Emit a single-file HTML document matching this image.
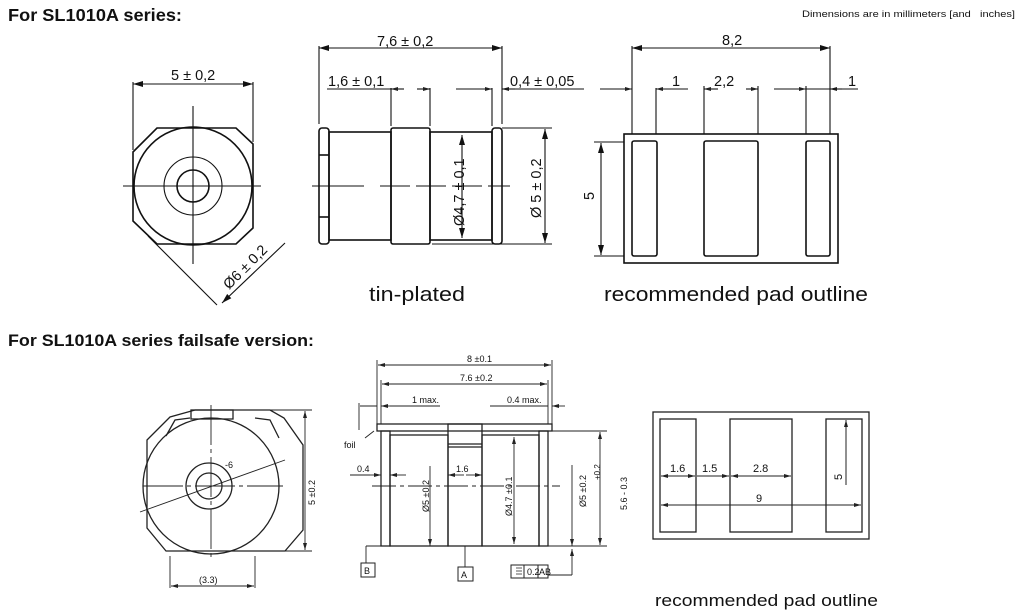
<!DOCTYPE html>
<html><head><meta charset="utf-8"><style>
html,body{margin:0;padding:0;background:#fff;width:1028px;height:615px;overflow:hidden}
svg{display:block}
text{font-family:"Liberation Sans",sans-serif;fill:#111}
</style></head><body>
<svg width="1028" height="615" viewBox="0 0 1028 615" xmlns="http://www.w3.org/2000/svg">
<defs>
<marker id="a" viewBox="0 0 10 6" refX="10" refY="3" markerWidth="10" markerHeight="6" orient="auto-start-reverse" markerUnits="userSpaceOnUse"><path d="M0,0 L10,3 L0,6z" fill="#111"/></marker>
<marker id="s" viewBox="0 0 7 4" refX="7" refY="2" markerWidth="7" markerHeight="4" orient="auto-start-reverse" markerUnits="userSpaceOnUse"><path d="M0,0 L7,2 L0,4z" fill="#222"/></marker>
</defs>
<text x="8" y="21" font-size="17.5" font-weight="bold" textLength="174" lengthAdjust="spacingAndGlyphs">For SL1010A series:</text>
<text x="802" y="17" font-size="9.5" textLength="213" lengthAdjust="spacingAndGlyphs">Dimensions are in millimeters [and&#160;&#160;&#160;inches]</text>
<text x="8" y="346" font-size="16.5" font-weight="bold" textLength="306" lengthAdjust="spacingAndGlyphs">For SL1010A series failsafe version:</text>

<g fill="none" stroke="#111" stroke-width="1.6">
<path d="M133,152 L157,128 L236,128 L253,144 L253,228 L236,244 L157,244 L133,221 Z"/>
<circle cx="193" cy="186" r="59"/>
<circle cx="193" cy="186" r="29" stroke-width="1.1"/>
<circle cx="193" cy="186" r="16"/>
<g stroke-width="1.1"><line x1="123" y1="186" x2="261" y2="186"/><line x1="193" y1="106" x2="193" y2="264"/>
<line x1="133" y1="82" x2="133" y2="150"/><line x1="253" y1="82" x2="253" y2="142"/>
<line x1="133" y1="84" x2="253" y2="84" marker-start="url(#a)" marker-end="url(#a)"/>
<line x1="148" y1="236" x2="217" y2="305"/>
<line x1="285" y1="243" x2="222" y2="303" marker-end="url(#a)"/></g>

<rect x="319" y="128" width="10" height="116" rx="3"/>
<rect x="492" y="128" width="10" height="116" rx="3"/>
<rect x="329" y="132" width="62" height="108"/>
<rect x="391" y="128" width="39" height="116" rx="2"/>
<rect x="430" y="132" width="62" height="108"/>
<line x1="319" y1="155" x2="329" y2="155"/><line x1="319" y1="217" x2="329" y2="217"/>
<g stroke-width="1.1">
<line x1="312" y1="186" x2="364" y2="186"/><line x1="380" y1="186" x2="510" y2="186" stroke-dasharray="30,6"/>
<line x1="319" y1="46" x2="319" y2="124"/><line x1="502" y1="46" x2="502" y2="124"/>
<line x1="319" y1="48" x2="502" y2="48" marker-start="url(#a)" marker-end="url(#a)"/>
<line x1="391" y1="88" x2="391" y2="126"/><line x1="430" y1="88" x2="430" y2="126"/>
<line x1="327" y1="89" x2="391" y2="89"/>
<line x1="404" y1="89" x2="391" y2="89" marker-end="url(#s)"/><line x1="417" y1="89" x2="430" y2="89" marker-end="url(#s)"/>
<line x1="492" y1="88" x2="492" y2="126"/>
<line x1="456" y1="89" x2="492" y2="89" marker-end="url(#s)"/><line x1="515" y1="89" x2="502" y2="89" marker-end="url(#s)"/>
<line x1="502" y1="89" x2="584" y2="89"/>
<line x1="462" y1="135" x2="462" y2="238" marker-start="url(#a)" marker-end="url(#a)"/>
<line x1="502" y1="128" x2="552" y2="128"/><line x1="432" y1="244" x2="552" y2="244"/>
<line x1="545" y1="129" x2="545" y2="243" marker-start="url(#a)" marker-end="url(#a)"/>
</g>

<rect x="624" y="134" width="214" height="129"/>
<rect x="632" y="141" width="25" height="115" rx="2"/>
<rect x="704" y="141" width="54" height="115" rx="2"/>
<rect x="806" y="141" width="24" height="115" rx="2"/>
<g stroke-width="1.1">
<line x1="632" y1="46" x2="632" y2="134"/><line x1="830" y1="46" x2="830" y2="134"/>
<line x1="632" y1="48" x2="830" y2="48" marker-start="url(#a)" marker-end="url(#a)"/>
<line x1="656" y1="88" x2="656" y2="134"/><line x1="704" y1="86" x2="704" y2="134"/><line x1="758" y1="86" x2="758" y2="134"/><line x1="806" y1="86" x2="806" y2="134"/>
<line x1="600" y1="89" x2="632" y2="89" marker-end="url(#s)"/><line x1="688" y1="89" x2="656" y2="89" marker-end="url(#s)"/>
<line x1="718" y1="89" x2="704" y2="89" marker-end="url(#s)"/><line x1="746" y1="89" x2="758" y2="89" marker-end="url(#s)"/>
<line x1="774" y1="89" x2="806" y2="89" marker-end="url(#s)"/><line x1="842" y1="89" x2="830" y2="89" marker-end="url(#s)"/>
<line x1="806" y1="89" x2="858" y2="89"/>
<line x1="594" y1="142" x2="624" y2="142"/><line x1="594" y1="256" x2="624" y2="256"/>
<line x1="601" y1="143" x2="601" y2="255" marker-start="url(#a)" marker-end="url(#a)"/>
</g>
</g>

<g font-size="14.5">
<text x="171" y="80">5 ± 0,2</text>
<text x="377" y="46">7,6 ± 0,2</text>
<text x="328" y="86">1,6 ± 0,1</text>
<text x="510" y="86">0,4 ± 0,05</text>
<text x="722" y="45">8,2</text>
<text x="672" y="86">1</text>
<text x="714" y="86">2,2</text>
<text x="848" y="86">1</text>
<text transform="translate(464,226) rotate(-90)">Ø4,7 ± 0,1</text>
<text transform="translate(541,218) rotate(-90)">Ø 5 ± 0,2</text>
<text transform="translate(594,200) rotate(-90)">5</text>
<text transform="translate(229,290) rotate(-45)">Ø6 ± 0,2</text>
</g>
<text x="369" y="301" font-size="20" textLength="96" lengthAdjust="spacingAndGlyphs">tin-plated</text>
<text x="604" y="301" font-size="20" textLength="264" lengthAdjust="spacingAndGlyphs">recommended pad outline</text>

<g fill="none" stroke="#222" stroke-width="1.3">
<path d="M147,440 L170,417 L195,410 L270,410 L284,418 L303,445 L303,530 L285,551 L166,551 L147,528 Z"/>
<circle cx="211" cy="486" r="68"/>
<circle cx="209" cy="486" r="23"/>
<circle cx="209" cy="486" r="13"/>
<rect x="191" y="410" width="42" height="9"/>
<path d="M166,436 L175,420 L190,418 M255,418 L270,420 L279,438"/>
<g stroke-width="0.9">
<line x1="143" y1="486" x2="283" y2="486" stroke-dasharray="40,4,4,4"/>
<line x1="211" y1="405" x2="211" y2="560" stroke-dasharray="40,4,4,4"/>
<line x1="140" y1="512" x2="285" y2="460"/>
<line x1="270" y1="410" x2="312" y2="410"/><line x1="270" y1="551" x2="312" y2="551"/>
<line x1="305" y1="411" x2="305" y2="550" marker-start="url(#s)" marker-end="url(#s)"/>
<line x1="170" y1="556" x2="170" y2="588"/><line x1="255" y1="556" x2="255" y2="588"/>
<line x1="171" y1="586" x2="254" y2="586" marker-start="url(#s)" marker-end="url(#s)"/>
</g>
</g>
<g font-size="9" fill="#333">
<text x="225" y="468">-6</text>
<text x="199" y="583">(3.3)</text>
<text transform="translate(315,505) rotate(-90)">5 ±0.2</text>
</g>

<g fill="none" stroke="#222" stroke-width="1.3">
<rect x="377" y="424" width="175" height="7"/>
<rect x="381" y="431" width="9" height="115"/>
<rect x="539" y="431" width="9" height="115"/>
<rect x="390" y="435" width="58" height="111"/>
<rect x="448" y="424" width="34" height="122"/>
<rect x="482" y="435" width="57" height="111"/>
<line x1="448" y1="444" x2="482" y2="444"/><line x1="448" y1="447" x2="482" y2="447"/>
<g stroke-width="0.9">
<line x1="372" y1="486" x2="560" y2="486" stroke-dasharray="24,4,4,4"/>
<line x1="377" y1="360" x2="377" y2="424"/><line x1="552" y1="360" x2="552" y2="424"/>
<line x1="381" y1="380" x2="381" y2="424"/><line x1="548" y1="380" x2="548" y2="424"/>
<line x1="378" y1="365" x2="551" y2="365" marker-start="url(#s)" marker-end="url(#s)"/>
<line x1="382" y1="384" x2="547" y2="384" marker-start="url(#s)" marker-end="url(#s)"/>
<line x1="360" y1="406" x2="377" y2="406"/><line x1="390" y1="406" x2="381" y2="406" marker-end="url(#s)"/>
<line x1="390" y1="406" x2="440" y2="406"/>
<line x1="490" y1="406" x2="548" y2="406"/><line x1="565" y1="406" x2="552" y2="406" marker-end="url(#s)"/>
<line x1="359" y1="403" x2="359" y2="430"/>
<line x1="374" y1="431" x2="365" y2="438"/>
<line x1="350" y1="475" x2="370" y2="475"/><line x1="365" y1="475" x2="381" y2="475" marker-end="url(#s)"/>
<line x1="406" y1="475" x2="390" y2="475" marker-end="url(#s)"/>
<line x1="464" y1="475" x2="448" y2="475" marker-end="url(#s)"/><line x1="466" y1="475" x2="482" y2="475" marker-end="url(#s)"/>
<line x1="430" y1="466" x2="430" y2="546" marker-end="url(#s)"/>
<line x1="514" y1="437" x2="514" y2="544" marker-start="url(#s)" marker-end="url(#s)"/>
<line x1="552" y1="431" x2="607" y2="431"/><line x1="548" y1="546" x2="607" y2="546"/>
<line x1="600" y1="432" x2="600" y2="545" marker-start="url(#s)" marker-end="url(#s)"/>
<line x1="572" y1="465" x2="572" y2="546" marker-end="url(#s)"/>
<line x1="572" y1="575" x2="572" y2="549" marker-end="url(#s)"/>
<line x1="572" y1="575" x2="548" y2="575"/>
<line x1="366" y1="546" x2="410" y2="546"/>
<line x1="366" y1="546" x2="366" y2="563"/><line x1="465" y1="546" x2="465" y2="567"/>
</g>
<rect x="361" y="563" width="14" height="14" stroke-width="1"/>
<rect x="458" y="567" width="15" height="14" stroke-width="1"/>
<rect x="511" y="565" width="37" height="13" stroke-width="1"/>
<line x1="524" y1="565" x2="524" y2="578" stroke-width="1"/><line x1="538" y1="565" x2="538" y2="578" stroke-width="1"/>
<path d="M516,571 H522 M516,568 H522 M516,574 H522" stroke-width="0.8"/>
</g>
<g font-size="9" fill="#333">
<text x="467" y="362">8 ±0.1</text>
<text x="460" y="381">7.6 ±0.2</text>
<text x="412" y="403">1 max.</text>
<text x="507" y="403">0.4 max.</text>
<text x="344" y="448">foil</text>
<text x="357" y="472">0.4</text>
<text x="456" y="472">1.6</text>
<text x="364" y="574">B</text>
<text x="461" y="578">A</text>
<text x="527" y="575">0.2</text>
<text x="539" y="575">AB</text>
<text transform="translate(429,512) rotate(-90)">Ø5 ±0.2</text>
<text transform="translate(512,516) rotate(-90)">Ø4.7 ±0.1</text>
<text transform="translate(586,507) rotate(-90)">Ø5 ±0.2</text>
<text transform="translate(600,480) rotate(-90)" font-size="8">+0.2</text>
<text transform="translate(627,510) rotate(-90)">5.6 - 0.3</text>
</g>

<g fill="none" stroke="#222" stroke-width="1.3">
<rect x="653" y="412" width="216" height="127"/>
<rect x="660" y="419" width="36" height="113"/>
<rect x="730" y="419" width="62" height="113"/>
<rect x="826" y="419" width="36" height="113"/>
<g stroke-width="1">
<line x1="661" y1="476" x2="695" y2="476" marker-start="url(#s)" marker-end="url(#s)"/>
<line x1="697" y1="476" x2="729" y2="476" marker-end="url(#s)"/>
<line x1="731" y1="476" x2="791" y2="476" marker-start="url(#s)" marker-end="url(#s)"/>
<line x1="661" y1="505" x2="861" y2="505" marker-start="url(#s)" marker-end="url(#s)"/>
<line x1="846" y1="485" x2="846" y2="420" marker-end="url(#s)"/>
</g>
</g>
<g font-size="11" fill="#222">
<text x="670" y="472">1.6</text>
<text x="702" y="472">1.5</text>
<text x="753" y="472">2.8</text>
<text x="756" y="502">9</text>
<text transform="translate(842,480) rotate(-90)">5</text>
</g>
<text x="655" y="606" font-size="16.5" fill="#333" textLength="223" lengthAdjust="spacingAndGlyphs">recommended pad outline</text>
</svg>
</body></html>
